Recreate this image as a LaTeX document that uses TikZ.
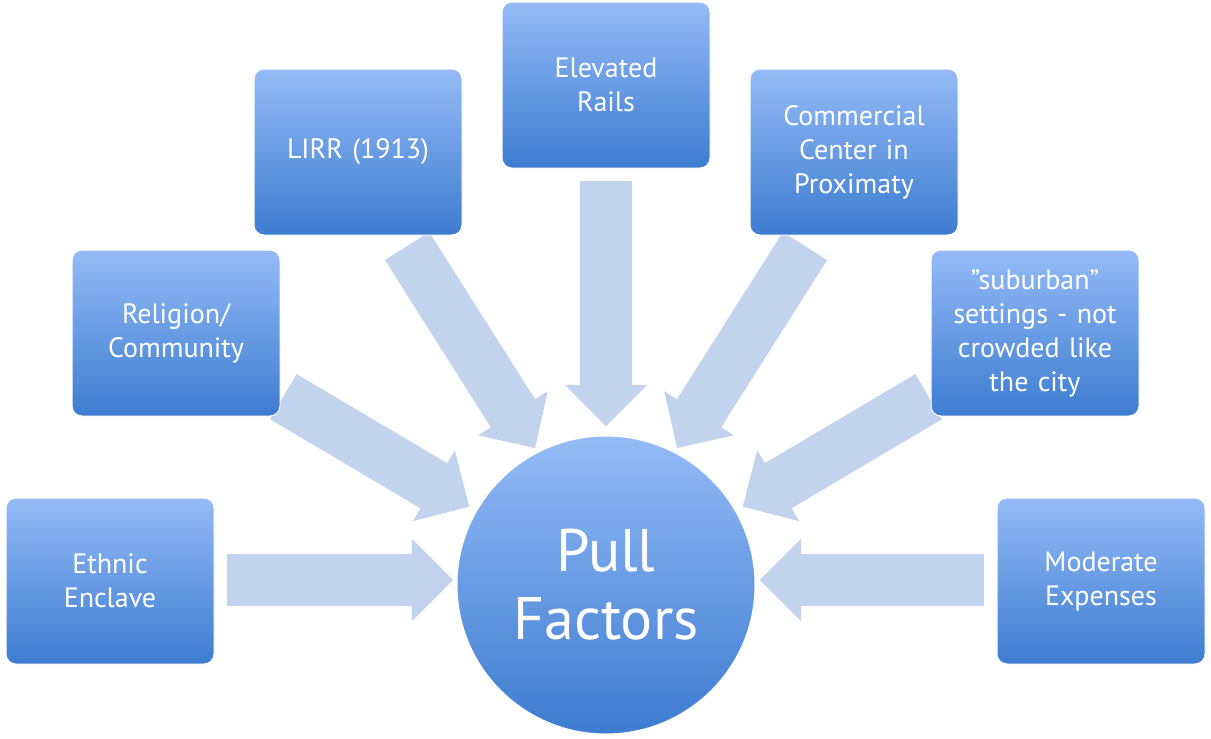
\documentclass[tikz,border=0pt]{standalone}
\usepackage{fontspec}
\setmainfont{PT Sans}
\usetikzlibrary{shapes.arrows,calc}
\definecolor{btop}{HTML}{94BBF7}
\definecolor{bbot}{HTML}{3D7CD0}
\definecolor{arr}{HTML}{B7CBEA}
\tikzset{
 box/.style={rounded corners=10pt,draw=white,line width=1pt,top color=btop,bottom color=bbot,
  minimum width=208pt,minimum height=166pt,text=white,font=\fontsize{28}{34}\selectfont,align=center,text width=190pt},
 arrw/.style={single arrow,fill=arr,fill opacity=0.85,minimum width=82pt,single arrow head extend=15pt,single arrow head indent=0pt,inner sep=0pt,outer sep=0pt},
}
\newcommand{\blockarrow}[2]{\path let \p1=($(#2)-(#1)$), \n1={atan2(\y1,\x1)}, \n2={veclen(\x1,\y1)} in node[arrw,rotate=\n1,minimum height=\n2] at ($(#1)!0.5!(#2)$) {\rule{0pt}{52pt}};}
\begin{document}
\begin{tikzpicture}[x=1pt,y=-1pt]
\useasboundingbox (0,0) rectangle (1211,739);
\coordinate (a1) at (214,580); \coordinate (b1) at (440,580);
\coordinate (a2) at (997,580); \coordinate (b2) at (773,580);
\coordinate (a3) at (606,168); \coordinate (b3) at (606,413);
\coordinate (a4) at (400,235); \coordinate (b4) at (528,437);
\coordinate (a5) at (812,235); \coordinate (b5) at (684,437);
\coordinate (a6) at (272,390); \coordinate (b6) at (458,500);
\coordinate (a7) at (940,390); \coordinate (b7) at (754,500);
\blockarrow{a1}{b1}\blockarrow{a2}{b2}\blockarrow{a3}{b3}\blockarrow{a4}{b4}
\blockarrow{a5}{b5}\blockarrow{a6}{b6}\blockarrow{a7}{b7}
\node[circle,draw=white,line width=1pt,top color=btop,bottom color=bbot,minimum size=298pt,text=white,
 font=\fontsize{60}{68}\selectfont,align=center] (c) at (606,585) {Pull\\Factors};
\node[box] (n1) at (110,581) {Ethnic\\Enclave};
\node[box] (n2) at (176,333) {Religion/\\Community};
\node[box] (n3) at (358,152) {LIRR (1913)};
\node[box] (n4) at (606,85) {Elevated\\Rails};
\node[box] (n5) at (854,152) {Commercial\\Center in\\Proximaty};
\node[box] (n6) at (1035,333) {\symbol{34}suburban\symbol{34}\\settings - not\\crowded like\\the city};
\node[box] (n7) at (1101,581) {Moderate\\Expenses};
\end{tikzpicture}
\end{document}
